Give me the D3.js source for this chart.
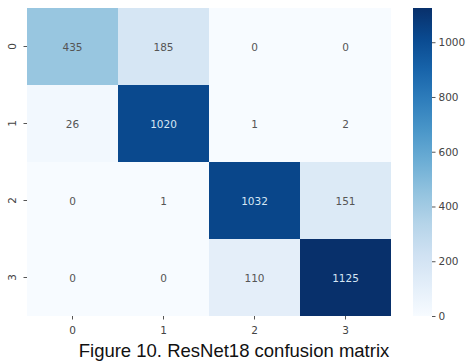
<!DOCTYPE html>
<html lang="en">
<head>
<meta charset="UTF-8">
<title>confusion matrix</title>
<script src="https://d3js.org/d3.v7.min.js"></script>
<style>
  body { margin: 0; background: #fff; }
  text { font-family: "DejaVu Sans", sans-serif; }
</style>
</head>
<body>
<script>
  var labels = ["0", "1", "2", "3"];
  var row0 = [435, 185, 0, 0];
  var row1 = [26, 1020, 1, 2];
  var row2 = [0, 1, 1032, 151];
  var row3 = [0, 0, 110, 1125];
  var matrix = [row0, row1, row2, row3];
  var barTicks = [0, 200, 400, 600, 800, 1000];
  var caption = "Figure 10. ResNet18 confusion matrix";

  var W = 474, H = 363;
  var gx = 27, gy = 8, gw = 364, gh = 308;

  var cells = [];
  matrix.forEach(function(r, i) {
    r.forEach(function(v, j) { cells.push({ row: i, col: j, v: v }); });
  });
  var vmax = d3.max(cells, function(d) { return d.v; });

  var x = d3.scaleBand().domain(labels).range([gx, gx + gw]);
  var y = d3.scaleBand().domain(labels).range([gy, gy + gh]);
  var color = d3.scaleSequential(d3.interpolateBlues).domain([0, vmax]);

  var svg = d3.select("body").append("svg").attr("width", W).attr("height", H);

  svg.selectAll("rect.cell")
    .data(cells)
    .enter()
    .append("rect")
    .attr("class", "cell")
    .attr("x", function(d) { return x(labels[d.col]); })
    .attr("y", function(d) { return y(labels[d.row]); })
    .attr("width", x.bandwidth())
    .attr("height", y.bandwidth())
    .attr("fill", function(d) { return color(d.v); });

  svg.selectAll("text.ann")
    .data(cells)
    .enter()
    .append("text")
    .attr("class", "ann")
    .attr("x", function(d) { return x(labels[d.col]) + x.bandwidth() / 2; })
    .attr("y", function(d) { return y(labels[d.row]) + y.bandwidth() / 2; })
    .attr("text-anchor", "middle")
    .attr("dominant-baseline", "central")
    .attr("font-size", "10.5px")
    .attr("fill", function(d) { return d.v > vmax * 0.6 ? "#d6e6f4" : "#555"; })
    .text(function(d) { return d.v; });

  // axes
  var xAxis = svg.append("g")
    .attr("transform", "translate(0," + (gy + gh) + ")")
    .call(d3.axisBottom(x).tickSize(3.5).tickPadding(7));
  var yAxis = svg.append("g")
    .attr("transform", "translate(" + gx + ",0)")
    .call(d3.axisLeft(y).tickSize(3.5).tickPadding(3));
  [xAxis, yAxis].forEach(function(g) {
    g.select(".domain").remove();
    g.selectAll("line").attr("stroke", "#555");
    g.selectAll("text").attr("font-size", "10.5px").attr("fill", "#444")
      .style("font-family", "DejaVu Sans, sans-serif");
  });
  yAxis.selectAll(".tick text")
    .attr("text-anchor", "middle")
    .attr("dy", null)
    .attr("dominant-baseline", "central")
    .attr("x", -15)
    .attr("transform", "rotate(-90,-15,0)");

  // colorbar
  var cbX = 413, cbW = 19;
  var cb = d3.scaleLinear().domain([0, vmax]).range([gy + gh, gy]);
  var defs = svg.append("defs");
  var grad = defs.append("linearGradient").attr("id", "cbg")
    .attr("x1", 0).attr("y1", 1).attr("x2", 0).attr("y2", 0);
  d3.range(0, 1.0001, 0.1).forEach(function(t) {
    grad.append("stop").attr("offset", t).attr("stop-color", d3.interpolateBlues(t));
  });
  svg.append("rect")
    .attr("x", cbX).attr("y", gy).attr("width", cbW).attr("height", gh)
    .attr("fill", "url(#cbg)");
  var cAxis = svg.append("g")
    .attr("transform", "translate(" + (cbX + cbW) + ",0)")
    .call(d3.axisRight(cb).tickValues(barTicks).tickFormat(d3.format("d"))
      .tickSize(3.5).tickPadding(3));
  cAxis.select(".domain").remove();
  cAxis.selectAll("line").attr("stroke", "#555");
  cAxis.selectAll("text").attr("font-size", "10.5px").attr("fill", "#444")
    .style("font-family", "DejaVu Sans, sans-serif");

  svg.append("text")
    .attr("x", 234)
    .attr("y", 357)
    .attr("text-anchor", "middle")
    .style("font-family", "Liberation Sans, Arial, sans-serif")
    .attr("font-size", "18.5px")
    .attr("fill", "#111")
    .text(caption);
</script>
</body>
</html>
